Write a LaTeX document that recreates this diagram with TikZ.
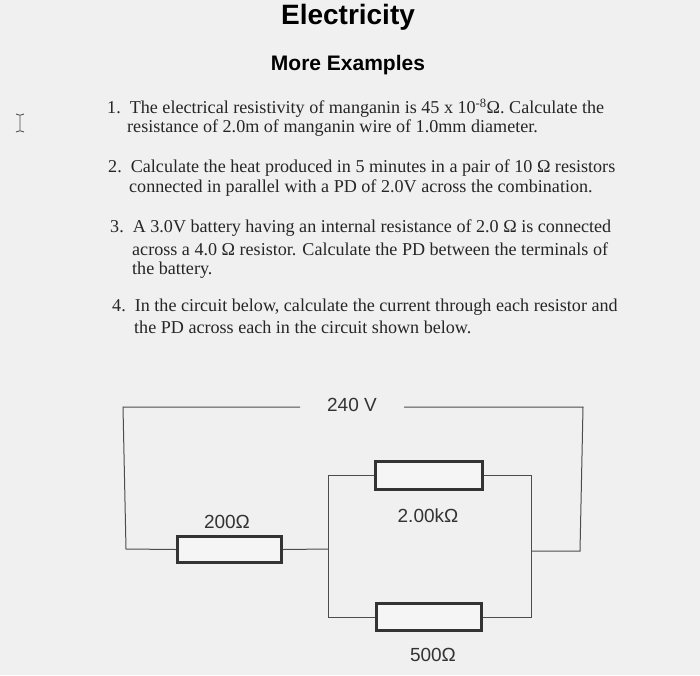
\documentclass[tikz,border=0pt]{standalone}
\usepackage{fontspec}
\setmainfont{Liberation Serif}
\newfontfamily\sans{Liberation Sans}
\begin{document}
\begin{tikzpicture}[x=1pt,y=-1pt,
  wire/.style={draw=black!70,line width=1pt},
  res/.style={draw=black!80,line width=2.2pt,fill=gray!8},
  lbl/.style={font=\sans\fontsize{19}{22}\selectfont,text=black!80},
  ln/.style={anchor=west,inner sep=0pt,font=\fontsize{18.1}{21}\selectfont,text=black!85}]
\fill[gray!12] (0,0) rectangle (700,675);
\useasboundingbox (0,0) rectangle (700,675);
\node (t) at (348,17) {\sans\bfseries\fontsize{28}{32}\selectfont Electricity};
\node (m) at (348,65) {\sans\bfseries\fontsize{21}{24}\selectfont More Examples};
% cursor
\draw[black!70,line width=0.9pt] (20,115) -- (20,131) (16,114)--(19,115)--(21,115)--(24,114) (16,132)--(19,131)--(21,131)--(24,132);
\node[ln] (a1) at (107,108) {1.\ \ The electrical resistivity of manganin is 45 x 10\textsuperscript{-8}Ω. Calculate the};
\node[ln] (a2) at (127,128) {resistance of 2.0m of manganin wire of 1.0mm diameter.};
\node[ln] (b1) at (108,168) {2.\ \ Calculate the heat produced in 5 minutes in a pair of 10 Ω resistors};
\node[ln] (b2) at (129,188) {connected in parallel with a PD of 2.0V across the combination.};
\node[ln] (c1) at (110,228) {3.\ \ A 3.0V battery having an internal resistance of 2.0 Ω is connected};
\node[ln] (c2) at (132,249) {across a 4.0 Ω resistor. Calculate the PD between the terminals of};
\node[ln] (c3) at (132,270) {the battery.};
\node[ln] (d1) at (112,307) {4.\ \ In the circuit below, calculate the current through each resistor and};
\node[ln] (d2) at (134,327) {the PD across each in the circuit shown below.};
% circuit
\node[res,minimum width=104pt,minimum height=26pt,inner sep=0pt] (r1) at (229.5,549.5) {};
\node[res,minimum width=107pt,minimum height=28pt,inner sep=0pt] (r2) at (429,475.5) {};
\node[res,minimum width=105pt,minimum height=27pt,inner sep=0pt] (r3) at (429,617) {};
\node[lbl] (v) at (352,405) {240 V};
\node[lbl] (l1) at (227,522) {200Ω};
\node[lbl] (l2) at (428,516) {2.00kΩ};
\node[lbl] (l3) at (433,655) {500Ω};
\coordinate (tl) at (123,407); \coordinate (tr) at (583,407);
\coordinate (bl) at (126,549); \coordinate (br) at (580,551);
\coordinate (pl) at (328,549);
\draw[wire] (300,407) -- (tl) -- (bl) -- (r1.west);
\draw[wire] (404,407) -- (tr) -- (br) -- (531,551);
\draw[wire] (r1.east) -- (pl);
\draw[wire] (r2.west) -- (328,475.5) -- (328,617) -- (r3.west);
\draw[wire] (r2.east) -- (531,475.5) -- (531,617) -- (r3.east);
\end{tikzpicture}
\end{document}
